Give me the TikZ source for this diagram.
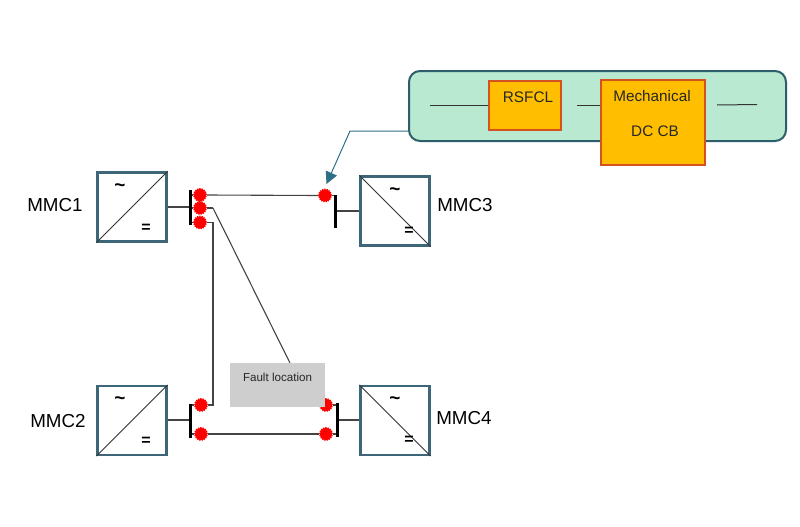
\documentclass[tikz,border=0pt]{standalone}
\usepackage{fontspec}
\setmainfont{Liberation Sans}
\usetikzlibrary{arrows.meta}
\definecolor{boxline}{HTML}{3D6679}
\definecolor{teal}{HTML}{B9E9D1}
\definecolor{tealline}{HTML}{2C5F6B}
\definecolor{arrowc}{HTML}{2F6F86}
\definecolor{orangefill}{HTML}{FFBF00}
\definecolor{orangeline}{HTML}{D4521F}
\definecolor{graybox}{HTML}{CECECE}
\definecolor{wirec}{HTML}{444444}
\tikzset{
  conv/.style={draw=boxline,line width=2.2pt,fill=white,minimum width=69pt,minimum height=69pt,inner sep=0pt},
  wire/.style={draw=wirec,line width=1.1pt},
  inwire/.style={draw=black!80,line width=1pt},
  bus/.style={draw=black,line width=3pt},
  fault/.style={circle,fill=red,draw=red,line width=1.7pt,dash pattern=on 1.3pt off 0.9pt,minimum size=12pt,inner sep=0pt},
  dev/.style={draw=orangeline,line width=1.7pt,fill=orangefill,inner sep=0pt},
  lbl/.style={font=\fontsize{18.8}{20}\selectfont,inner sep=0pt},
  devtxt/.style={font=\fontsize{15.3}{17}\selectfont,text=black!85,inner sep=0pt},
  acs/.style={font=\bfseries\fontsize{19}{20}\selectfont,inner sep=0pt},
  dcs/.style={font=\bfseries\fontsize{16}{18}\selectfont,inner sep=0pt}
}
\begin{document}
\begin{tikzpicture}[x=1pt,y=-1pt]
\useasboundingbox (0,0) rectangle (800,527);
% converters
\node[conv] (m1) at (132,207) {};
\node[conv] (m2) at (132,420.5) {};
\node[conv] (m3) at (395,211) {};
\node[conv] (m4) at (395,420.5) {};
\draw[inwire] (m1.south west) -- (m1.north east);
\draw[inwire] (m2.south west) -- (m2.north east);
\draw[inwire] (m3.north west) -- (m3.south east);
\draw[inwire] (m4.north west) -- (m4.south east);
\node[acs] (a1) at (120,188) {\char`~};
\node[dcs] (d1) at (146,228) {=};
\node[acs] (a2) at (120,401) {\char`~};
\node[dcs] (d2) at (146,441) {=};
\node[acs] (a3) at (395,192) {\char`~};
\node[dcs] (d3) at (409,231) {=};
\node[acs] (a4) at (395,401) {\char`~};
\node[dcs] (d4) at (409,440) {=};
% buses
\coordinate (b1t) at (190,190); \coordinate (b1b) at (190,225);
\coordinate (b2t) at (190,404); \coordinate (b2b) at (190,438);
\coordinate (b3t) at (335,195); \coordinate (b3b) at (335,228);
\coordinate (b4t) at (337,403); \coordinate (b4b) at (337,437);
\coordinate (b1m) at (190,207); \coordinate (b2m) at (190,420);
\coordinate (b3m) at (335,211); \coordinate (b4m) at (337,420);
\draw[wire] (m1.east |- b1m) -- (b1m);
\draw[wire] (m2.east |- b2m) -- (b2m);
\draw[wire] (b3m) -- (m3.west |- b3m);
\draw[wire] (b4m) -- (m4.west |- b4m);
% lines
\coordinate (k1) at (213,208);
\coordinate (k2) at (213,222.5);
\coordinate (k3) at (213,405);
% fault points
\node[fault] (f1) at (200,195) {};
\node[fault] (f2) at (200,208) {};
\node[fault] (f3) at (200,222.5) {};
\node[fault] (f4) at (201,405) {};
\node[fault] (f5) at (201,434) {};
\node[fault] (f6) at (325,195.5) {};
\node[fault] (f7) at (326,405) {};
\node[fault] (f8) at (326,434) {};
\draw[wire] (f1.east) -- (f6.west);
\draw[wire] (f5.east) -- (f8.west);
\draw[wire] (f2.east) -- (k1);
\draw[wire] (f3.east) -- (k2) -- (k3) -- (f4.east);
\draw[wire] (f1.west) -- (b1t |- f1);
\draw[wire] (f2.west) -- (b1t |- f2);
\draw[wire] (f3.west) -- (b1t |- f3);
\draw[wire] (f4.west) -- (b2t |- f4);
\draw[wire] (f5.west) -- (b2t |- f5);
\draw[wire] (f6.east) -- (b3t |- f6);
\draw[wire] (f7.east) -- (b4t |- f7);
\draw[wire] (f8.east) -- (b4t |- f8);
\draw[bus] (b1t) -- (b1b);
\draw[bus] (b2t) -- (b2b);
\draw[bus] (b3t) -- (b3b);
\draw[bus] (b4t) -- (b4b);
% fault location
\coordinate (ft) at (290,363);
\draw[wire] (k1) -- (ft);
\node[fill=graybox,minimum width=95pt,minimum height=44pt,inner sep=0pt] (fl) at (277.5,385) {};
\node[font=\fontsize{11.6}{14}\selectfont,text=black!85,inner sep=0pt] (flt) at (277.5,377.5) {Fault location};
% labels
\node[lbl] (l1) at (55,205.5) {MMC1};
\node[lbl] (l2) at (58,421) {MMC2};
\node[lbl] (l3) at (465,205.5) {MMC3};
\node[lbl] (l4) at (464,418.5) {MMC4};
% callout
\node[draw=tealline,line width=2pt,fill=teal,rounded corners=11pt,minimum width=377pt,minimum height=70pt,inner sep=0pt] (cb) at (597.5,106) {};
\coordinate (c1) at (430,105); \coordinate (c2) at (577,105); \coordinate (c3) at (717,105); \coordinate (c4) at (757,104.5);
\node[dev,minimum width=72pt,minimum height=49pt] (rs) at (525,105.5) {};
\node[dev,minimum width=104pt,minimum height=85pt] (mc) at (653,122.5) {};
\draw[inwire] (c1) -- (rs.west |- c1);
\draw[inwire] (c2) -- (mc.west |- c2);
\draw[inwire] (c3) -- (c4);
\node[devtxt] (rst) at (528,97) {RSFCL};
\node[devtxt] (mt1) at (652,96) {Mechanical};
\node[devtxt] (mt2) at (655,131.5) {DC CB};
\coordinate (cbo) at (409,131);
\coordinate (cbk) at (350,131);
\coordinate (cbt) at (326.5,184);
\draw[draw=arrowc,line width=1pt,-{Triangle[length=12pt,width=12pt,fill=arrowc]}] (cbo) -- (cbk) -- (cbt);
\end{tikzpicture}
\end{document}
